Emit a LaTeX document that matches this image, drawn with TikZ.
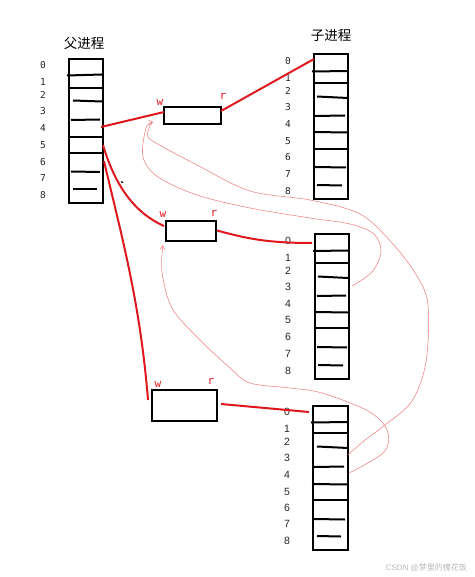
\documentclass[tikz,border=0pt]{standalone}
\usepackage{fontspec}
\setmainfont{Liberation Sans}
\newfontfamily\cjkf{Noto Sans CJK SC}
\newfontfamily\monof{DejaVu Sans Mono}
\usetikzlibrary{arrows.meta}
\definecolor{thickred}{RGB}{222,24,30}
\definecolor{thinred}{RGB}{238,130,130}
\definecolor{wm}{RGB}{185,185,185}
\tikzset{
  tbl/.style={draw=black, line width=2.5pt, minimum width=#1, inner sep=0pt},
  pipebox/.style={draw=black, line width=2.3pt, inner sep=0pt},
  row/.style={line width=2pt, black},
  idxm/.style={font=\monof\fontsize{9.5}{10}\selectfont, text=black!85, inner sep=0pt},
  idxs/.style={font=\fontsize{10.5}{11}\selectfont, text=black!85, inner sep=0pt},
  wr/.style={font=\monof\fontsize{11}{11}\selectfont, text=thickred, inner sep=0pt},
  title/.style={font=\cjkf\fontsize{13.5}{13.5}\selectfont, inner sep=0pt},
  fd/.style={line width=2pt, thickred},
  trace/.style={line width=0.55pt, thinred},
}
\begin{document}
\begin{tikzpicture}[x=1pt,y=-1pt]
\useasboundingbox[fill=white] (0,0) rectangle (474,577);

% titles
\node[title] (tparent) at (84,43) {父进程};
\node[title] (tchild) at (331,35) {子进程};

% tables
\node[tbl=34pt, minimum height=144pt] (parent) at (86,131) {};
\node[tbl=34pt, minimum height=145pt] (child1) at (331,126.5) {};
\node[tbl=34pt, minimum height=145pt] (child2) at (332,306.5) {};
\node[tbl=35pt, minimum height=144pt] (child3) at (330.5,478) {};

% parent rows
\draw[row] (67,75.5) -- (102,74.5);
\draw[row] (69,88) -- (103,88);
\draw[row] (73,100.5) -- (102,101.5);
\draw[row] (71,120) -- (100,119.5);
\draw[row] (68,137) -- (103,137);
\draw[row] (70,153) -- (103,153);
\draw[row] (71,171.5) -- (100,172);
\draw[row] (73,189) -- (97,189);

% child1 rows
\draw[row] (312,71.5) -- (348,71);
\draw[row] (314,83) -- (348,83);
\draw[row] (317,96.5) -- (348,98);
\draw[row] (315,116) -- (345,115.5);
\draw[row] (313,132) -- (348,132.5);
\draw[row] (314,149) -- (348,149);
\draw[row] (315,167) -- (346,167.5);
\draw[row] (317,185) -- (342,185.5);

% child2 rows
\draw[row] (313,251) -- (349,250.5);
\draw[row] (315,263) -- (349,263);
\draw[row] (318,276.5) -- (348,278);
\draw[row] (317,296) -- (346,295.5);
\draw[row] (314,312) -- (349,312.5);
\draw[row] (315,328) -- (349,328);
\draw[row] (317,347) -- (347,347.5);
\draw[row] (318,365) -- (343,365.5);

% child3 rows
\draw[row] (311,422.5) -- (348,422);
\draw[row] (313,433) -- (348,433);
\draw[row] (317,446.5) -- (348,448);
\draw[row] (314,467) -- (344,466.5);
\draw[row] (312,484) -- (348,484.5);
\draw[row] (313,500) -- (348,500);
\draw[row] (314,519) -- (345,519.5);
\draw[row] (317,536) -- (341,536.5);

% parent indices
\foreach \i/\y in {0/65,1/82,2/95,3/111,4/128,5/145,6/162,7/178,8/195}
  \node[idxm] (pi\i) at (43,\y) {\i};
% child1 indices
\foreach \i/\y in {0/61,1/78,2/91,3/107,4/124,5/141,6/157,7/174,8/191}
  \node[idxm] (ai\i) at (288,\y) {\i};
% child2 indices
\foreach \i/\y in {0/241,1/258,2/271,3/287,4/304,5/320,6/337,7/354,8/371}
  \node[idxs] (bi\i) at (288,\y) {\i};
% child3 indices
\foreach \i/\y in {0/412,1/429,2/442,3/458,4/475,5/492,6/508,7/524,8/541}
  \node[idxs] (ci\i) at (287,\y) {\i};

% pipes
\node[pipebox, minimum width=57pt, minimum height=17pt] (pipe1) at (192.5,115.5) {};
\node[pipebox, minimum width=50pt, minimum height=20pt] (pipe2) at (191,231) {};
\node[pipebox, minimum width=65pt, minimum height=31pt] (pipe3) at (184.5,405.5) {};

\node[wr] (w1) at (160,102) {w};
\node[wr] (r1) at (223,96) {r};
\node[wr] (w2) at (163,214) {w};
\node[wr] (r2) at (214,213) {r};
\node[wr] (w3) at (158,384) {w};
\node[wr] (r3) at (211,381) {r};

% connection points
\coordinate (p4) at (101,127);
\coordinate (p5) at (103,145);
\coordinate (p6) at (104,161);
\coordinate (p1w) at (164,112);
\coordinate (p1r) at (221,111);
\coordinate (c1z) at (314,59);
\coordinate (p2w) at (164,226);
\coordinate (p2r) at (217,230.5);
\coordinate (c2z) at (312,243);
\coordinate (p3w) at (148,400);
\coordinate (p3r) at (221,404);
\coordinate (c3z) at (309,412);

% thick red fd lines
\draw[fd] (p4) -- (p1w);
\draw[fd] (p1r) -- (c1z);
\draw[fd] (p5) .. controls (112,175) and (128,210) .. (p2w);
\draw[fd] (p6) .. controls (120,230) and (140,300) .. (p3w);
\draw[fd] (p2r) .. controls (245,238) and (265,243) .. (c2z);
\draw[fd] (p3r) -- (c3z);

% small tick
\draw[black, line width=1.2pt] (121.3,181.5) -- (123,182.8);

% thin hand-drawn traces
\coordinate (tipA) at (153,122);
\coordinate (tipC) at (163,245);
\coordinate (c2r3) at (352,286);
\coordinate (c3r3) at (348,455);
\coordinate (c3r4) at (349,473);

\draw[trace, -{Straight Barb[length=4pt, width=5pt]}] plot[smooth, tension=0.55] coordinates {
  (c2r3) (372,272) (381,252) (374,234) (350,224) (310,218) (250,208) (197,195) (158,177) (143,157) (146,128) (tipA)};
\draw[trace] plot[smooth, tension=0.55] coordinates {
  (c3r3) (365,440) (385,425) (412,401) (426,362) (428,305) (417,276) (392,243) (360,214) (310,200) (250,191) (197,165) (163,147) (148,137) (150,126) (tipA)};
\draw[trace, -{Straight Barb[length=4pt, width=5pt]}] plot[smooth, tension=0.55] coordinates {
  (c3r4) (384,452) (387,430) (368,411) (322,393) (290,388) (250,383) (230,368) (198,338) (172,308) (162,272) (tipC)};

% watermark
\node[font=\fontsize{8}{8}\selectfont, text=wm, inner sep=0pt, anchor=east] (wmark) at (467,568) {CSDN @{\cjkf 梦里的槐花饭}};
\end{tikzpicture}
\end{document}
